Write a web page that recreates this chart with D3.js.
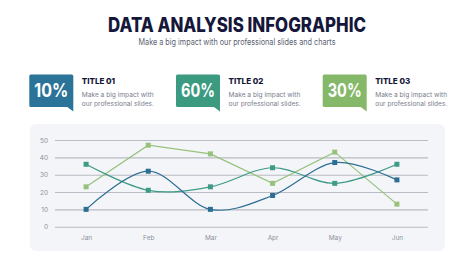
<!DOCTYPE html>
<html>
<head>
<meta charset="utf-8">
<script src="https://cdn.jsdelivr.net/npm/d3@7"></script>
<style>
  body { margin: 0; background: #fff; }
  svg { display: block; font-family: Inter, "Open Sans", sans-serif; }
</style>
</head>
<body>
<svg id="chart" width="474" height="266"></svg>
<script>
// data
const months = ["Jan", "Feb", "Mar", "Apr", "May", "Jun"];
const seriesBlue = [10, 32, 10, 18, 37, 27];
const seriesTeal = [36, 21, 23, 34, 25, 36];
const seriesGreen = [23, 47, 42, 25, 43, 13];
const yTicks = [0, 10, 20, 30, 40, 50];

const cardValues = ["10%", "60%", "30%"];
const cardTitles = ["TITLE 01", "TITLE 02", "TITLE 03"];
const cardColors = ["#2b7398", "#3b9a80", "#86b86a"];

const lineColors = ["#2d6e93", "#3e9b86", "#96c27c"];

const svg = d3.select("#chart");

// header
svg.append("text")
    .attr("x", 237).attr("y", 31.5)
    .attr("text-anchor", "middle")
    .attr("font-size", "19.5px")
    .attr("font-weight", 800)
    .attr("fill", "#15173a")
    .attr("textLength", 258)
    .attr("lengthAdjust", "spacingAndGlyphs")
    .text("DATA ANALYSIS INFOGRAPHIC");

svg.append("text")
    .attr("x", 237).attr("y", 45)
    .attr("text-anchor", "middle")
    .attr("font-size", "8.5px")
    .attr("fill", "#5b5f73")
    .attr("textLength", 197)
    .attr("lengthAdjust", "spacingAndGlyphs")
    .text("Make a big impact with our professional slides and charts");

// cards
const cardX = d3.scaleLinear([0, 1], [29.3, 176]);
cardValues.forEach((v, i) => {
    const x0 = cardX(i), y0 = 74.5, w = 44, h = 32.5;
    const g = svg.append("g");
    g.append("path")
        .attr("d", `M${x0 + 1.5},${y0} H${x0 + w - 1.5} Q${x0 + w},${y0} ${x0 + w},${y0 + 1.5} V${y0 + h + 4.5} L${x0 + w - 6},${y0 + h} H${x0 + 1.5} Q${x0},${y0 + h} ${x0},${y0 + h - 1.5} V${y0 + 1.5} Q${x0},${y0} ${x0 + 1.5},${y0} Z`)
        .attr("fill", cardColors[i]);
    g.append("text")
        .attr("x", x0 + w / 2).attr("y", y0 + 22.3)
        .attr("text-anchor", "middle")
        .attr("font-size", "19px")
        .attr("font-weight", 700)
        .attr("fill", "#fff")
        .attr("textLength", 34)
        .attr("lengthAdjust", "spacingAndGlyphs")
        .text(v);
    g.append("text")
        .attr("x", x0 + 52.5).attr("y", 84.3)
        .attr("font-size", "8px")
        .attr("font-weight", 800)
        .attr("fill", "#15173a")
        .text(cardTitles[i]);
    ["Make a big impact with", "our professional slides."].forEach((t, k) => {
        g.append("text")
            .attr("x", x0 + 52.5).attr("y", 96.5 + k * 9.5)
            .attr("font-size", "6.6px")
            .attr("fill", "#7a7e8c")
            .text(t);
    });
});

// chart panel
svg.append("rect")
    .attr("x", 30).attr("y", 124)
    .attr("width", 415).attr("height", 127)
    .attr("rx", 6)
    .attr("fill", "#f4f5f8");

const x = d3.scalePoint(months, [55, 428]).padding(0.5);
const y = d3.scaleLinear([0, 50], [226.7, 140]);

const yAxis = svg.append("g")
    .attr("transform", "translate(55,0)")
    .call(d3.axisLeft(y).tickValues(yTicks).tickSize(-373).tickPadding(7));
yAxis.select(".domain").remove();
yAxis.selectAll("line").attr("stroke", "#b9bcc4").attr("stroke-width", 1.1);
yAxis.selectAll("text").attr("fill", "#8d919b").attr("font-size", "6.5px")
    .attr("font-family", "Inter, sans-serif");

const xAxis = svg.append("g")
    .attr("transform", "translate(0,226.7)")
    .call(d3.axisBottom(x).tickSize(0).tickPadding(9));
xAxis.select(".domain").remove();
xAxis.selectAll("text").attr("fill", "#8d919b").attr("font-size", "6.5px")
    .attr("font-family", "Inter, sans-serif");

const series = [
    { values: seriesGreen, curve: d3.curveLinear, color: lineColors[2] },
    { values: seriesTeal, curve: d3.curveCardinal.tension(0), color: lineColors[1] },
    { values: seriesBlue, curve: d3.curveCardinal.tension(0), color: lineColors[0] }
];

series.forEach(s => {
    const pts = s.values.map((v, i) => [x(months[i]), y(v)]);
    svg.append("path")
        .attr("d", d3.line().curve(s.curve)(pts))
        .attr("fill", "none")
        .attr("stroke", s.color)
        .attr("stroke-width", 1.2);
    svg.selectAll(null)
        .data(pts)
        .enter()
        .append("rect")
        .attr("x", d => d[0] - 2.5)
        .attr("y", d => d[1] - 2.5)
        .attr("width", 5)
        .attr("height", 5)
        .attr("fill", s.color);
});
</script>
</body>
</html>
